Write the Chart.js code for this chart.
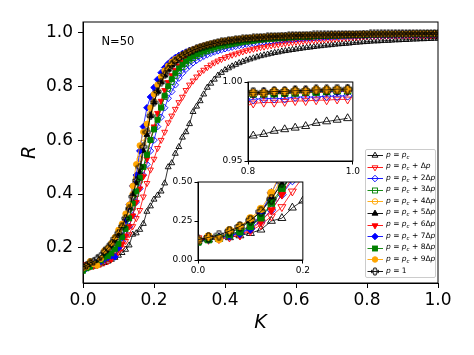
<!DOCTYPE html>
<html><head><meta charset="utf-8">
<script src="https://cdn.jsdelivr.net/npm/chart.js@4.4.1/dist/chart.umd.min.js"></script>
<style>
html,body{margin:0;padding:0;background:#fff;}
#wrap{position:relative;width:474px;height:355px;overflow:hidden;background:#fff;font-family:"DejaVu Sans",sans-serif;}
#wrap canvas{position:absolute;}
#main{left:0;top:0;}
#in1{left:212px;top:72px;}
#in2{left:162px;top:172px;}
#nlabel{position:absolute;left:101.5px;top:35px;font-size:11.5px;line-height:12px;color:#000;white-space:nowrap;}
#legend{position:absolute;left:365px;top:149px;width:69px;height:127px;border:1px solid #cccccc;border-radius:2px;background:rgba(255,255,255,0.85);}
.row{height:11.55px;display:flex;align-items:center;font-size:7.5px;line-height:11.55px;white-space:nowrap;color:#000;}
.row svg{margin-left:1px;margin-right:2px;flex:none;}
.row .s{font-size:5.5px;vertical-align:-1.5px;font-style:italic;}
</style></head>
<body>
<div id="wrap">
<canvas id="main" width="474" height="355"></canvas>
<canvas id="in1" width="150" height="112"></canvas>
<canvas id="in2" width="150" height="110"></canvas>
<div id="nlabel">N=50</div>
<div id="legend"></div>
</div>
<script>
// ---------------- DATA ----------------
const K_VALUES = [0.00,0.01,0.02,0.03,0.04,0.05,0.06,0.07,0.08,0.09,
 0.10,0.11,0.12,0.13,0.14,0.15,0.16,0.17,0.18,0.19,
 0.20,0.21,0.22,0.23,0.24,0.25,0.26,0.27,0.28,0.29,
 0.30,0.31,0.32,0.33,0.34,0.35,0.36,0.37,0.38,0.39,
 0.40,0.41,0.42,0.43,0.44,0.45,0.46,0.47,0.48,0.49,
 0.50,0.51,0.52,0.53,0.54,0.55,0.56,0.57,0.58,0.59,
 0.60,0.61,0.62,0.63,0.64,0.65,0.66,0.67,0.68,0.69,
 0.70,0.71,0.72,0.73,0.74,0.75,0.76,0.77,0.78,0.79,
 0.80,0.81,0.82,0.83,0.84,0.85,0.86,0.87,0.88,0.89,
 0.90,0.91,0.92,0.93,0.94,0.95,0.96,0.97,0.98,0.99,
 1.00];

// p = p_c
const R_PC = [0.124,0.127,0.130,0.132,0.136,0.140,0.145,0.150,0.157,0.164,
 0.172,0.182,0.194,0.210,0.250,0.255,0.268,0.290,0.335,0.355,
 0.380,0.395,0.410,0.440,0.500,0.515,0.550,0.575,0.610,0.630,
 0.660,0.705,0.725,0.745,0.770,0.795,0.810,0.825,0.840,0.850,
 0.860,0.867,0.874,0.880,0.886,0.891,0.896,0.900,0.904,0.908,
 0.912,0.915,0.918,0.921,0.924,0.926,0.929,0.931,0.933,0.935,
 0.937,0.939,0.941,0.943,0.944,0.946,0.948,0.949,0.951,0.952,
 0.953,0.955,0.956,0.957,0.958,0.959,0.961,0.962,0.963,0.964,
 0.965,0.966,0.967,0.967,0.968,0.969,0.969,0.970,0.971,0.971,
 0.972,0.972,0.973,0.974,0.974,0.975,0.975,0.976,0.976,0.977,
 0.977];
// p = p_c + Δp
const R_P1DP = [0.140,0.135,0.130,0.132,0.135,0.140,0.145,0.150,0.158,0.170,
 0.185,0.200,0.225,0.250,0.280,0.310,0.340,0.390,0.440,0.490,
 0.530,0.570,0.600,0.630,0.665,0.690,0.715,0.740,0.760,0.785,
 0.805,0.820,0.835,0.850,0.860,0.870,0.879,0.887,0.894,0.900,
 0.906,0.911,0.916,0.920,0.924,0.928,0.932,0.935,0.938,0.941,
 0.944,0.946,0.949,0.951,0.953,0.955,0.957,0.959,0.961,0.962,
 0.964,0.965,0.967,0.968,0.969,0.970,0.971,0.972,0.973,0.974,
 0.975,0.976,0.977,0.978,0.979,0.980,0.981,0.982,0.983,0.984,
 0.985,0.9865,0.986,0.987,0.9865,0.987,0.987,0.9875,0.987,0.988,
 0.9875,0.988,0.988,0.9885,0.988,0.9885,0.9885,0.989,0.9885,0.989,
 0.989];
// p = p_c + 2Δp
const R_P2DP = [0.130,0.128,0.135,0.140,0.140,0.150,0.155,0.165,0.175,0.190,
 0.205,0.225,0.250,0.280,0.320,0.370,0.420,0.470,0.510,0.560,
 0.600,0.650,0.685,0.720,0.755,0.780,0.805,0.830,0.848,0.863,
 0.876,0.887,0.896,0.904,0.911,0.917,0.922,0.927,0.931,0.935,
 0.939,0.942,0.945,0.948,0.951,0.953,0.956,0.958,0.960,0.962,
 0.964,0.965,0.967,0.968,0.970,0.971,0.972,0.973,0.974,0.975,
 0.976,0.977,0.978,0.979,0.979,0.980,0.981,0.981,0.982,0.983,
 0.983,0.984,0.984,0.985,0.985,0.986,0.986,0.987,0.987,0.988,
 0.988,0.989,0.989,0.9895,0.989,0.9895,0.990,0.9895,0.990,0.9905,
 0.990,0.9905,0.991,0.9905,0.991,0.991,0.9915,0.991,0.9915,0.9913,
 0.9915];
// p = p_c + 3Δp
const R_P3DP = [0.120,0.125,0.140,0.135,0.140,0.150,0.160,0.170,0.185,0.200,
 0.220,0.245,0.275,0.310,0.350,0.400,0.450,0.500,0.550,0.600,
 0.640,0.685,0.725,0.760,0.790,0.815,0.838,0.856,0.871,0.884,
 0.895,0.904,0.912,0.919,0.925,0.930,0.935,0.939,0.943,0.947,
 0.950,0.953,0.956,0.958,0.961,0.963,0.965,0.966,0.968,0.970,
 0.972,0.973,0.974,0.975,0.976,0.977,0.978,0.979,0.980,0.981,
 0.982,0.983,0.983,0.984,0.984,0.985,0.985,0.986,0.986,0.987,
 0.987,0.988,0.988,0.989,0.989,0.990,0.990,0.991,0.991,0.991,
 0.992,0.9925,0.992,0.9925,0.9925,0.993,0.9925,0.993,0.993,0.9935,
 0.993,0.9935,0.9935,0.994,0.9935,0.994,0.994,0.9945,0.994,0.9945,
 0.9945];
// p = p_c + 4Δp
const R_P4DP = [0.130,0.135,0.150,0.140,0.140,0.160,0.180,0.195,0.210,0.235,
 0.260,0.285,0.315,0.350,0.400,0.460,0.530,0.590,0.640,0.700,
 0.745,0.785,0.820,0.846,0.866,0.882,0.895,0.905,0.913,0.920,
 0.927,0.933,0.939,0.944,0.948,0.952,0.955,0.958,0.961,0.964,
 0.966,0.968,0.970,0.972,0.974,0.975,0.977,0.978,0.979,0.980,
 0.981,0.982,0.983,0.984,0.984,0.985,0.986,0.986,0.987,0.987,
 0.988,0.988,0.988,0.989,0.989,0.989,0.990,0.990,0.990,0.990,
 0.991,0.991,0.991,0.991,0.992,0.992,0.992,0.992,0.993,0.993,
 0.993,0.993,0.9935,0.993,0.9935,0.994,0.9935,0.994,0.994,0.9945,
 0.994,0.9945,0.9945,0.995,0.9945,0.995,0.995,0.995,0.9955,0.995,
 0.9955];
// p = p_c + 5Δp
const R_P5DP = [0.120,0.130,0.145,0.140,0.145,0.160,0.175,0.190,0.205,0.225,
 0.250,0.280,0.310,0.350,0.400,0.440,0.480,0.560,0.620,0.690,
 0.740,0.780,0.815,0.840,0.862,0.878,0.892,0.902,0.911,0.919,
 0.926,0.932,0.938,0.943,0.947,0.951,0.954,0.957,0.960,0.963,
 0.965,0.967,0.969,0.971,0.973,0.974,0.976,0.977,0.978,0.979,
 0.980,0.981,0.982,0.983,0.984,0.984,0.985,0.986,0.986,0.987,
 0.987,0.988,0.988,0.988,0.989,0.989,0.989,0.990,0.990,0.990,
 0.991,0.991,0.991,0.991,0.992,0.992,0.992,0.992,0.992,0.993,
 0.993,0.993,0.9935,0.9935,0.9935,0.994,0.994,0.994,0.994,0.9945,
 0.9945,0.9945,0.9945,0.995,0.995,0.995,0.995,0.995,0.9955,0.9955,
 0.9955];
// p = p_c + 6Δp
const R_P6DP = [0.125,0.130,0.140,0.135,0.140,0.150,0.160,0.165,0.160,0.175,
 0.195,0.215,0.245,0.280,0.320,0.370,0.420,0.465,0.530,0.600,
 0.650,0.700,0.745,0.785,0.815,0.840,0.860,0.876,0.889,0.900,
 0.909,0.917,0.924,0.930,0.935,0.940,0.944,0.948,0.951,0.954,
 0.957,0.960,0.962,0.964,0.966,0.968,0.970,0.971,0.973,0.974,
 0.975,0.976,0.977,0.978,0.979,0.980,0.981,0.982,0.982,0.983,
 0.984,0.984,0.985,0.985,0.986,0.986,0.987,0.987,0.988,0.988,
 0.988,0.989,0.989,0.989,0.990,0.990,0.990,0.991,0.991,0.991,
 0.991,0.992,0.9915,0.992,0.992,0.9925,0.992,0.9925,0.9925,0.993,
 0.9925,0.993,0.993,0.9935,0.993,0.9935,0.9935,0.994,0.9935,0.994,
 0.994];
// p = p_c + 7Δp
const R_P7DP = [0.120,0.125,0.135,0.140,0.140,0.150,0.160,0.165,0.170,0.167,
 0.200,0.240,0.300,0.360,0.430,0.470,0.560,0.650,0.720,0.760,
 0.795,0.825,0.850,0.869,0.884,0.896,0.906,0.914,0.921,0.927,
 0.932,0.937,0.941,0.945,0.949,0.952,0.955,0.958,0.960,0.962,
 0.964,0.966,0.968,0.970,0.971,0.973,0.974,0.975,0.977,0.978,
 0.979,0.980,0.980,0.981,0.982,0.983,0.983,0.984,0.985,0.985,
 0.986,0.986,0.987,0.987,0.988,0.988,0.988,0.989,0.989,0.989,
 0.990,0.990,0.990,0.990,0.991,0.991,0.991,0.991,0.992,0.992,
 0.992,0.9925,0.9925,0.993,0.9925,0.993,0.993,0.9935,0.993,0.9935,
 0.9935,0.994,0.9935,0.994,0.994,0.994,0.9945,0.994,0.9945,0.9945,
 0.9945];
// p = p_c + 8Δp
const R_P8DP = [0.115,0.125,0.130,0.140,0.140,0.155,0.165,0.170,0.180,0.195,
 0.215,0.240,0.270,0.310,0.365,0.410,0.460,0.500,0.545,0.600,
 0.640,0.675,0.720,0.765,0.800,0.826,0.848,0.866,0.880,0.892,
 0.902,0.911,0.918,0.925,0.931,0.936,0.941,0.945,0.949,0.952,
 0.955,0.958,0.960,0.962,0.964,0.966,0.968,0.970,0.971,0.972,
 0.974,0.975,0.976,0.977,0.978,0.979,0.980,0.980,0.981,0.982,
 0.983,0.983,0.984,0.984,0.985,0.985,0.986,0.986,0.987,0.987,
 0.988,0.988,0.988,0.989,0.989,0.989,0.990,0.990,0.990,0.991,
 0.991,0.9925,0.992,0.9925,0.993,0.9925,0.993,0.993,0.9935,0.993,
 0.9935,0.9935,0.994,0.9935,0.994,0.994,0.994,0.9945,0.994,0.9945,
 0.9945];
// p = p_c + 9Δp
const R_P9DP = [0.125,0.130,0.150,0.140,0.135,0.160,0.190,0.200,0.218,0.240,
 0.267,0.290,0.327,0.360,0.430,0.510,0.580,0.630,0.660,0.720,
 0.770,0.805,0.835,0.858,0.875,0.890,0.900,0.908,0.916,0.923,
 0.930,0.936,0.941,0.946,0.950,0.954,0.957,0.960,0.963,0.966,
 0.968,0.970,0.972,0.974,0.975,0.977,0.978,0.979,0.980,0.981,
 0.982,0.983,0.983,0.984,0.985,0.985,0.986,0.986,0.987,0.987,
 0.988,0.988,0.988,0.989,0.989,0.989,0.990,0.990,0.990,0.990,
 0.991,0.991,0.991,0.991,0.992,0.992,0.992,0.992,0.992,0.993,
 0.993,0.993,0.993,0.993,0.993,0.994,0.994,0.994,0.994,0.994,
 0.994,0.994,0.994,0.995,0.995,0.995,0.995,0.995,0.995,0.995,
 0.995];
// p = 1
const R_P1 = [0.130,0.135,0.145,0.150,0.160,0.170,0.185,0.200,0.215,0.235,
 0.255,0.280,0.310,0.345,0.390,0.450,0.500,0.575,0.630,0.690,
 0.740,0.780,0.815,0.842,0.863,0.880,0.893,0.904,0.913,0.920,
 0.927,0.933,0.939,0.944,0.948,0.952,0.956,0.959,0.962,0.964,
 0.967,0.969,0.971,0.972,0.974,0.975,0.977,0.978,0.979,0.980,
 0.981,0.982,0.983,0.984,0.984,0.985,0.986,0.986,0.987,0.987,
 0.988,0.988,0.989,0.989,0.989,0.990,0.990,0.990,0.990,0.991,
 0.991,0.991,0.991,0.992,0.992,0.992,0.992,0.992,0.993,0.993,
 0.993,0.9935,0.9935,0.9935,0.994,0.994,0.994,0.994,0.9945,0.9945,
 0.9945,0.9945,0.995,0.995,0.995,0.995,0.995,0.9955,0.9955,0.9955,
 0.9955];

const LEGEND_LABELS = [
 '<i>p</i> = <i>p</i><span class="s">c</span>',
 '<i>p</i> = <i>p</i><span class="s">c</span> + Δ<i>p</i>',
 '<i>p</i> = <i>p</i><span class="s">c</span> + 2Δ<i>p</i>',
 '<i>p</i> = <i>p</i><span class="s">c</span> + 3Δ<i>p</i>',
 '<i>p</i> = <i>p</i><span class="s">c</span> + 4Δ<i>p</i>',
 '<i>p</i> = <i>p</i><span class="s">c</span> + 5Δ<i>p</i>',
 '<i>p</i> = <i>p</i><span class="s">c</span> + 6Δ<i>p</i>',
 '<i>p</i> = <i>p</i><span class="s">c</span> + 7Δ<i>p</i>',
 '<i>p</i> = <i>p</i><span class="s">c</span> + 8Δ<i>p</i>',
 '<i>p</i> = <i>p</i><span class="s">c</span> + 9Δ<i>p</i>',
 '<i>p</i> = 1'
];

const MAIN_X_TICKS = [0.0,0.2,0.4,0.6,0.8,1.0];
const MAIN_Y_TICKS = [0.2,0.4,0.6,0.8,1.0];
const IN1_X_TICKS = [0.8,1.0];
const IN1_Y_TICKS = [0.95,1.0];
const IN2_X_TICKS = [0.0,0.2];
const IN2_Y_TICKS = [0.0,0.25,0.5];

// ---------------- STYLES ----------------
const SERIES = [
 {data:R_PC,   color:'#000000', style:'triangle', rot:0,   fill:false},
 {data:R_P1DP, color:'#ff0000', style:'triangle', rot:180, fill:false},
 {data:R_P2DP, color:'#0000ff', style:'rectRot',  rot:0,   fill:false},
 {data:R_P3DP, color:'#008000', style:'rect',     rot:0,   fill:false},
 {data:R_P4DP, color:'#ffa500', style:'circle',   rot:0,   fill:false},
 {data:R_P5DP, color:'#000000', style:'triangle', rot:0,   fill:true},
 {data:R_P6DP, color:'#ff0000', style:'triangle', rot:180, fill:true},
 {data:R_P7DP, color:'#0000ff', style:'rectRot',  rot:0,   fill:true},
 {data:R_P8DP, color:'#008000', style:'rect',     rot:0,   fill:true},
 {data:R_P9DP, color:'#ffa500', style:'circle',   rot:0,   fill:true},
 {data:R_P1,   color:'#000000', style:'plus',     rot:0,   fill:false}
];
const FONT = '"DejaVu Sans", sans-serif';

function makePlus(size){
  const c = document.createElement('canvas');
  const n = Math.ceil(size)+2;
  c.width = n; c.height = n;
  const g = c.getContext('2d');
  const m = n/2, h = size/2, w = size*0.18;
  g.beginPath();
  const pts = [[m-w,m-h],[m+w,m-h],[m+w,m-w],[m+h,m-w],[m+h,m+w],[m+w,m+w],[m+w,m+h],[m-w,m+h],[m-w,m+w],[m-h,m+w],[m-h,m-w],[m-w,m-w]];
  pts.forEach((p,i)=> i? g.lineTo(p[0],p[1]) : g.moveTo(p[0],p[1]));
  g.closePath();
  g.strokeStyle = '#000'; g.lineWidth = 1; g.stroke();
  return c;
}
const PLUS_MAIN = makePlus(7);
const PLUS_INSET = makePlus(9);

const RADII_MAIN = {triangle:3.4, rectRot:3.3, rect:3.5, circle:2.8, plus:3.5};
const RADII_INSET = {triangle:4.6, rectRot:4.4, rect:4.5, circle:3.8, plus:4.5};

function makeDatasets(filterFn, radii, plusImg, lw){
  return SERIES.map((s,i)=>({
    data: K_VALUES.map((k,j)=>({x:k, y:s.data[j], j:j})).filter(p=>filterFn(p.j, p.x)),
    borderColor: s.color,
    borderWidth: lw,
    backgroundColor: s.color,
    pointStyle: s.style==='plus' ? plusImg : s.style,
    pointRotation: s.rot,
    pointRadius: radii[s.style],
    pointBorderColor: s.color,
    pointBackgroundColor: s.fill ? s.color : 'rgba(0,0,0,0)',
    pointBorderWidth: 0.9,
    tension: 0,
    order: SERIES.length - i,
    fill: false
  }));
}

const framePlugin = {
  id:'frame',
  beforeDraw(chart, args, opts){
    if(opts && opts.bg){
      const a = chart.chartArea, ctx = chart.ctx;
      ctx.save(); ctx.fillStyle = '#fff';
      ctx.fillRect(a.left, a.top, a.right-a.left, a.bottom-a.top);
      ctx.restore();
    }
  },
  afterDraw(chart){
    const a = chart.chartArea, ctx = chart.ctx;
    ctx.save(); ctx.strokeStyle = '#000'; ctx.lineWidth = 1;
    ctx.strokeRect(a.left, a.top, a.right-a.left, a.bottom-a.top);
    ctx.restore();
  }
};

function scaleCfg(o){
  return {
    type:'linear', min:o.min, max:o.max,
    afterBuildTicks: s => { s.ticks = o.ticks.map(v=>({value:v})); },
    afterFit: s => { if(o.horiz) s.height = o.size; else s.width = o.size; },
    ticks:{ font:{family:FONT, size:o.fs}, color:'#000', padding:o.pad, maxRotation:0, autoSkip:false,
            callback: v => Number(v).toFixed(o.dec) },
    grid:{ display:true, drawOnChartArea:false, drawTicks:true, tickLength:o.tl, tickColor:'#000', tickWidth:1, color:'#000' },
    border:{ display:true, color:'#000', width:1 },
    title: o.title ? { display:true, text:o.title, color:'#000',
            font:{family:FONT, size:19, style:'italic'}, padding:o.tpad } : {display:false}
  };
}

function makeChart(id, datasets, padding, xo, yo, bg){
  return new Chart(document.getElementById(id), {
    type:'line',
    data:{ datasets },
    options:{
      responsive:false, animation:false, events:[], devicePixelRatio:1,
      layout:{ padding },
      plugins:{ legend:{display:false}, tooltip:{enabled:false}, frame:{bg:bg} },
      scales:{ x: scaleCfg(Object.assign({horiz:true}, xo)), y: scaleCfg(Object.assign({horiz:false}, yo)) }
    },
    plugins:[framePlugin]
  });
}

// main chart
makeChart('main', makeDatasets(()=>true, RADII_MAIN, PLUS_MAIN, 0.8),
  {left:0, right:36, top:22, bottom:0},
  {min:0, max:1, ticks:MAIN_X_TICKS, dec:1, fs:17, pad:2, tl:5, size:72, title:'K', tpad:{top:0,bottom:20.6}},
  {min:0.07, max:1.038, ticks:MAIN_Y_TICKS, dec:1, fs:17, pad:5, tl:5, size:83, title:'R', tpad:{top:18.6,bottom:0}},
  false);

// upper inset: 0.8 - 1.0
makeChart('in1', makeDatasets((j,x)=> j%2===1 && x>=0.785, RADII_INSET, PLUS_INSET, 0.8),
  {left:0, right:8, top:10, bottom:0},
  {min:0.8, max:1.0, ticks:IN1_X_TICKS, dec:1, fs:9, pad:2, tl:3.5, size:23},
  {min:0.95, max:1.0, ticks:IN1_Y_TICKS, dec:2, fs:9, pad:2, tl:3.5, size:36},
  true);

// lower inset: 0 - 0.2
makeChart('in2', makeDatasets((j,x)=> j%2===0 && x<=0.225, RADII_INSET, PLUS_INSET, 0.8),
  {left:0, right:8, top:10, bottom:0},
  {min:0, max:0.2, ticks:IN2_X_TICKS, dec:1, fs:9, pad:2, tl:3.5, size:22},
  {min:0, max:0.5, ticks:IN2_Y_TICKS, dec:2, fs:9, pad:2, tl:3.5, size:36},
  true);

// legend (HTML)
function legendSvg(s){
  const c = s.color, f = s.fill ? c : 'none', cx = 8, cy = 5.5;
  let shape = '';
  if(s.style==='triangle'){
    const r = 3.4;
    const pts = s.rot ? [[cx,cy+r],[cx+r*0.866,cy-r*0.5],[cx-r*0.866,cy-r*0.5]]
                      : [[cx,cy-r],[cx+r*0.866,cy+r*0.5],[cx-r*0.866,cy+r*0.5]];
    shape = `<polygon points="${pts.map(p=>p.join(',')).join(' ')}" fill="${f}" stroke="${c}" stroke-width="0.9"/>`;
  } else if(s.style==='rectRot'){
    const r = 3.3;
    shape = `<polygon points="${cx},${cy-r} ${cx+r},${cy} ${cx},${cy+r} ${cx-r},${cy}" fill="${f}" stroke="${c}" stroke-width="0.9"/>`;
  } else if(s.style==='rect'){
    const h = 2.5;
    shape = `<rect x="${cx-h}" y="${cy-h}" width="${2*h}" height="${2*h}" fill="${f}" stroke="${c}" stroke-width="0.9"/>`;
  } else if(s.style==='circle'){
    shape = `<circle cx="${cx}" cy="${cy}" r="2.8" fill="${f}" stroke="${c}" stroke-width="0.9"/>`;
  } else {
    const h = 3.5, w = 1.26;
    const pts = [[cx-w,cy-h],[cx+w,cy-h],[cx+w,cy-w],[cx+h,cy-w],[cx+h,cy+w],[cx+w,cy+w],[cx+w,cy+h],[cx-w,cy+h],[cx-w,cy+w],[cx-h,cy+w],[cx-h,cy-w],[cx-w,cy-w]];
    shape = `<polygon points="${pts.map(p=>p.join(',')).join(' ')}" fill="none" stroke="${c}" stroke-width="0.9"/>`;
  }
  return `<svg width="17" height="11" viewBox="0 0 17 11"><line x1="0.5" y1="${cy}" x2="16" y2="${cy}" stroke="${c}" stroke-width="0.9"/>${shape}</svg>`;
}
document.getElementById('legend').innerHTML = SERIES.map((s,i)=>
  `<div class="row">${legendSvg(s)}<span>${LEGEND_LABELS[i]}</span></div>`).join('');
</script>
</body></html>
